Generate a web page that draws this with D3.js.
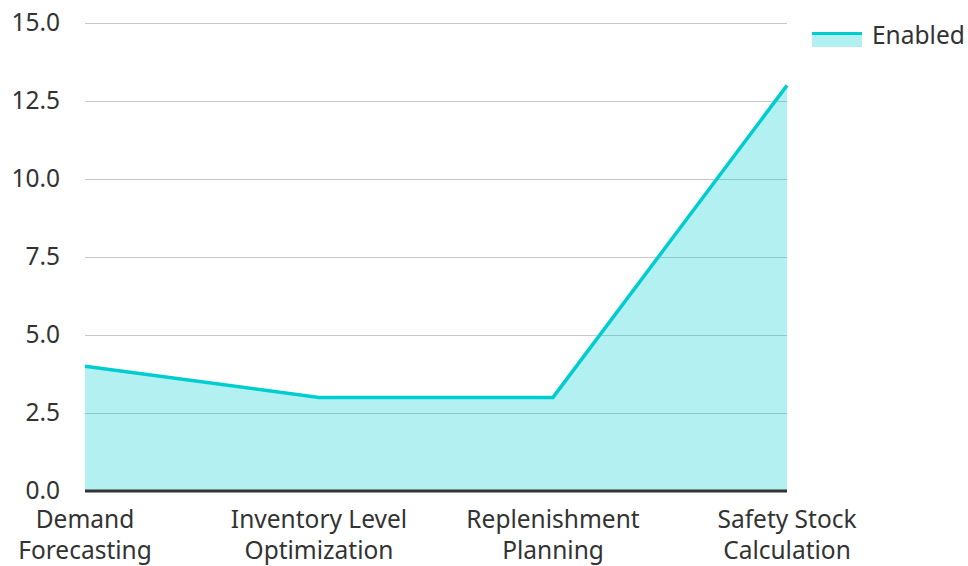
<!DOCTYPE html>
<html>
<head>
<meta charset="utf-8">
<script src="https://cdn.jsdelivr.net/npm/d3@7"></script>
<style>
  body { margin: 0; background: #fff; }
  svg { font-family: "Noto Sans", "Open Sans", sans-serif; }
</style>
</head>
<body>
<svg width="968" height="566"></svg>
<script>
// chart data
const categories = [
  ["Demand", "Forecasting"],
  ["Inventory Level", "Optimization"],
  ["Replenishment", "Planning"],
  ["Safety Stock", "Calculation"],
];
const enabledValues = [4, 3, 3, 13];
const yTicks = [0, 2.5, 5, 7.5, 10, 12.5, 15];
const seriesName = "Enabled";

const svg = d3.select("svg");
const plotLeft = 85, plotRight = 787, plotTop = 23, plotBottom = 491;
const lineColor = "#00cdd0";
const fontSize = "24.5px";

const x = d3.scalePoint()
  .domain(d3.range(categories.length))
  .range([plotLeft, plotRight]);

const y = d3.scaleLinear()
  .domain([0, 15])
  .range([plotBottom, plotTop]);

// gridlines + y labels
const yAxis = svg.append("g")
  .attr("transform", `translate(${plotLeft},0)`)
  .call(d3.axisLeft(y).tickValues(yTicks).tickSize(-(plotRight - plotLeft)).tickPadding(25).tickFormat(d3.format(".1f")));
yAxis.select(".domain").remove();
yAxis.selectAll(".tick line").attr("stroke", "#c8c8c8").attr("stroke-width", 1);
yAxis.selectAll(".tick text")
  .attr("font-size", fontSize)
  .attr("fill", "#333")
  .attr("font-family", "Noto Sans, sans-serif");

// area + line
const area = d3.area()
  .x((d, i) => x(i))
  .y0(y(0))
  .y1((d) => y(d));
svg.append("path")
  .datum(enabledValues)
  .attr("d", area)
  .attr("fill", lineColor)
  .attr("fill-opacity", 0.3);

const line = d3.line()
  .x((d, i) => x(i))
  .y((d) => y(d));
svg.append("path")
  .datum(enabledValues)
  .attr("d", line)
  .attr("fill", "none")
  .attr("stroke", lineColor)
  .attr("stroke-width", 3.5);

// baseline
svg.append("line")
  .attr("x1", plotLeft).attr("x2", plotRight)
  .attr("y1", y(0)).attr("y2", y(0))
  .attr("stroke", "#333")
  .attr("stroke-width", 3);

// category labels
const labels = svg.selectAll(".catLabel")
  .data(categories)
  .enter()
  .append("text")
  .attr("class", "catLabel")
  .attr("text-anchor", "middle")
  .attr("font-size", fontSize)
  .attr("fill", "#333");
labels.each(function (d, i) {
  d3.select(this).selectAll("tspan")
    .data(d)
    .enter()
    .append("tspan")
    .attr("x", x(i))
    .attr("y", (t, j) => 528 + j * 31)
    .text((t) => t);
});

// legend
const legend = svg.append("g").attr("transform", "translate(812,32)");
legend.append("rect")
  .attr("width", 50).attr("height", 15)
  .attr("fill", lineColor).attr("fill-opacity", 0.3);
legend.append("line")
  .attr("x1", 0).attr("x2", 50)
  .attr("y1", 1.5).attr("y2", 1.5)
  .attr("stroke", lineColor).attr("stroke-width", 3);
legend.append("text")
  .attr("x", 60).attr("y", 3)
  .attr("dy", "0.35em")
  .attr("font-size", fontSize)
  .attr("fill", "#333")
  .text(seriesName);
</script>
</body>
</html>
